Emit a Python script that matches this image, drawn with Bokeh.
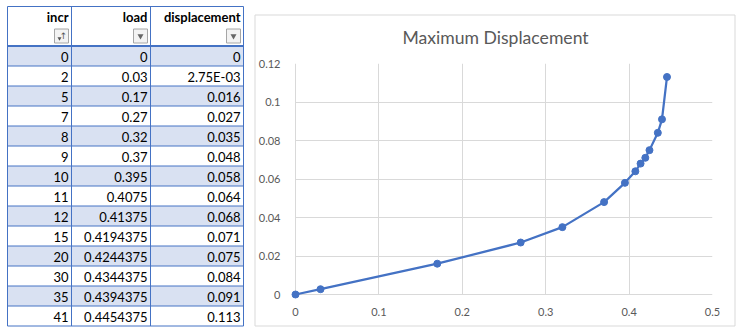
from bokeh.plotting import figure
from bokeh.models import Range1d, FixedTicker, CustomJSTickFormatter, ColumnDataSource
from bokeh.core.properties import value
from bokeh.embed import file_html
from bokeh.resources import INLINE

# ---- data ----
incr = [0, 2, 5, 7, 8, 9, 10, 11, 12, 15, 20, 30, 35, 41]
load = [0, 0.03, 0.17, 0.27, 0.32, 0.37, 0.395, 0.4075, 0.41375, 0.4194375,
        0.4244375, 0.4344375, 0.4394375, 0.4454375]
displacement = [0, 0.00275, 0.016, 0.027, 0.035, 0.048, 0.058, 0.064, 0.068,
                0.071, 0.075, 0.084, 0.091, 0.113]
load_labels = ["0", "0.03", "0.17", "0.27", "0.32", "0.37", "0.395", "0.4075",
               "0.41375", "0.4194375", "0.4244375", "0.4344375", "0.4394375", "0.4454375"]
disp_labels = ["0", "2.75E-03", "0.016", "0.027", "0.035", "0.048", "0.058",
               "0.064", "0.068", "0.071", "0.075", "0.084", "0.091", "0.113"]
headers = ["incr", "load", "displacement"]
x_ticks = [0, 0.1, 0.2, 0.3, 0.4, 0.5]
y_ticks = [0, 0.02, 0.04, 0.06, 0.08, 0.1, 0.12]
title = "Maximum Displacement"

FONT = "Lato"
BLUE = "#4472C4"

# ---- sheet background: table + chart-area border ----
W, H = 741, 334
t = figure(width=W, height=H, x_range=Range1d(0, W), y_range=Range1d(H, 0),
           output_backend="svg", toolbar_location=None, min_border=0,
           x_axis_type=None, y_axis_type=None, outline_line_color=None)
t.grid.visible = False
t.styles = {"position": "absolute", "left": "0px", "top": "0px"}

# chart area border
t.quad(left=[254.5], right=[734.5], top=[14.5], bottom=[325.5],
       fill_color="#FFFFFF", line_color="#D9D9D9", line_width=1)

col_edges = [7, 71, 150, 243]
top, head_bot, row_h = 6, 45.5, 20
n = len(incr)
row_tops = [head_bot + i * row_h for i in range(n)]

stripe_tops = [row_tops[i] for i in range(n) if i % 2 == 0]
t.quad(left=col_edges[0], right=col_edges[-1], top=stripe_tops,
       bottom=[y + row_h for y in stripe_tops], fill_color="#D9E1F2", line_color=None)

hy = [row_tops[i] + row_h for i in range(n)]
t.segment(x0=col_edges[0], x1=col_edges[-1], y0=hy, y1=hy, line_color=BLUE, line_width=1)
t.segment(x0=col_edges[0], x1=col_edges[-1], y0=[top], y1=[top], line_color=BLUE, line_width=1)
t.segment(x0=col_edges[0], x1=col_edges[-1], y0=[head_bot], y1=[head_bot], line_color=BLUE, line_width=2)
t.segment(x0=col_edges, x1=col_edges, y0=top, y1=row_tops[-1] + row_h, line_color=BLUE, line_width=1)

hx = [e - 3 for e in col_edges[1:]]
t.text(x=hx, y=[16] * 3, text=headers, text_align="right", text_baseline="middle",
       text_font=value(FONT), text_font_size="13px", text_font_style="bold", text_color="#000000")

bx_r = [e - 3 for e in col_edges[1:]]
t.quad(left=[x - 14 for x in bx_r], right=bx_r, top=[28.5] * 3, bottom=[42.5] * 3,
       fill_color="#F3F3F3", line_color="#A6A6A6", line_width=1)
t.scatter(x=[bx_r[1] - 7, bx_r[2] - 7], y=[35.5, 35.5], marker="inverted_triangle",
          size=6, fill_color="#666666", line_color=None)
t.scatter(x=[bx_r[0] - 9], y=[38], marker="inverted_triangle", size=4,
          fill_color="#555555", line_color=None)
t.text(x=[bx_r[0] - 5], y=[35.5], text=["↑"], text_align="center", text_baseline="middle",
       text_font=value("DejaVu Sans"), text_font_size="9px", text_color="#555555")

cy = [y + row_h / 2 + 0.5 for y in row_tops]
src = ColumnDataSource(dict(y=cy, incr=[str(v) for v in incr], load=load_labels, disp=disp_labels))
for ci, key in enumerate(["incr", "load", "disp"]):
    t.text(x=hx[ci], y="y", text=key, source=src, text_align="right", text_baseline="middle",
           text_font=value(FONT), text_font_size="13px", text_color="#000000")

# ---- chart (overlaid, transparent) ----
# ranges padded by ~5px at left/bottom so the marker at the origin is not clipped
x_pad = 5 * 0.5 / 417
y_pad = 5 * 0.12 / 231
p = figure(width=481, height=326, x_range=Range1d(-x_pad, 0.5), y_range=Range1d(-y_pad, 0.12),
           output_backend="svg", toolbar_location=None,
           min_border_left=36, min_border_right=23, min_border_top=63, min_border_bottom=27,
           outline_line_color=None, title=title,
           background_fill_color=None, border_fill_color=None)
p.styles = {"position": "absolute", "left": "254px", "top": "0px"}

p.title.align = "left"
p.title.offset = 112
p.title.standoff = 31
p.title.text_font = FONT
p.title.text_font_size = "17.6px"
p.title.text_font_style = "normal"
p.title.text_color = "#595959"

fmt = CustomJSTickFormatter(code="return parseFloat(tick.toFixed(3)).toString();")
p.xaxis.ticker = FixedTicker(ticks=x_ticks)
p.yaxis.ticker = FixedTicker(ticks=y_ticks)
for ax in (p.xaxis[0], p.yaxis[0]):
    ax.formatter = fmt
    ax.axis_line_color = None
    ax.major_tick_line_color = None
    ax.minor_tick_line_color = None
    ax.major_label_text_font = FONT
    ax.major_label_text_font_size = "11px"
    ax.major_label_text_color = "#595959"
p.xaxis.bounds = (0, 0.5)
p.yaxis.bounds = (0, 0.12)
p.yaxis.major_label_standoff = 4
p.xaxis.major_label_standoff = 2
p.grid.grid_line_color = "#D9D9D9"
p.grid.grid_line_width = 1
p.xgrid.bounds = (0, 0.5)
p.ygrid.bounds = (0, 0.12)
try:
    p.xgrid.cross_bounds = (0, 0.12)
    p.ygrid.cross_bounds = (0, 0.5)
except Exception:
    pass

p.line(load, displacement, line_color=BLUE, line_width=2.25)
p.scatter(load, displacement, size=7, fill_color=BLUE, line_color=BLUE)

open("out.html", "w").write(file_html([t, p], INLINE))
